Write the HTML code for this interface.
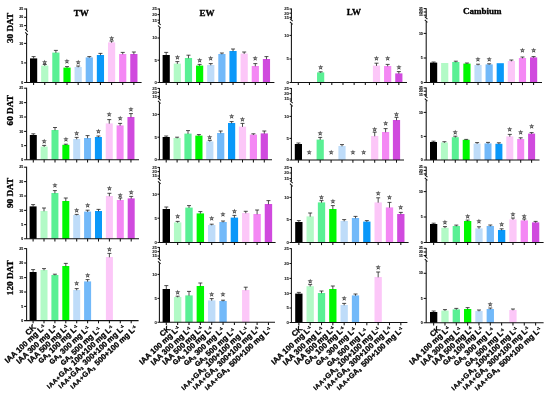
<!DOCTYPE html>
<html lang="en"><head><meta charset="utf-8"><title>Figure</title>
<style>
html,body{margin:0;padding:0;background:#fff;}
body{width:550px;height:395px;overflow:hidden;}
svg{display:block;filter:blur(0.35px);}
.ax{stroke:#111;stroke-width:1.05;fill:none;}
.yl{font-family:"Liberation Sans",sans-serif;font-weight:bold;font-size:3.5px;text-anchor:end;fill:#111;stroke:#111;stroke-width:0.12;}
.yb{font-size:4.2px;stroke-width:0.05;}
.sf{font-family:"DejaVu Sans",sans-serif;font-size:5.7px;text-anchor:middle;fill:#a8a8a8;}
.st{font-family:"DejaVu Sans",sans-serif;font-size:4.9px;text-anchor:middle;fill:#aaa;stroke:#333;stroke-width:0.5;stroke-linejoin:miter;}
.xl{font-family:"Liberation Sans",sans-serif;font-weight:bold;font-size:7.8px;text-anchor:end;fill:#000;stroke:#000;stroke-width:0.3;}
.xl .sm{font-size:6.2px;letter-spacing:0.55px;}
.xl .ga2{font-size:7.4px;letter-spacing:0.3px;}
.xl .ga{font-size:7px;}
.xl .sub{font-size:4.2px;}
.xl .sup{font-size:3.8px;}
.ti{font-family:"Liberation Serif",serif;font-weight:bold;font-size:9.0px;text-anchor:middle;fill:#000;stroke:#000;stroke-width:0.3;}
.ro{font-family:"Liberation Serif",serif;font-weight:bold;font-size:9.2px;text-anchor:middle;fill:#000;stroke:#000;stroke-width:0.3;}
</style></head>
<body>
<svg width="550" height="395" viewBox="0 0 550 395">
<rect width="550" height="395" fill="#ffffff"/>
<g id="p11">
<rect x="30" y="58.4" width="7.2" height="24" fill="#000000"/>
<path d="M33.6 58.7V56.6M31.6 56.6H35.6" stroke="#222" stroke-width="0.8" fill="none"/>
<rect x="41.14" y="65.6" width="7.2" height="16.8" fill="#b2fac6"/>
<path d="M44.74 65.9V64.4M42.74 64.4H46.74" stroke="#222" stroke-width="0.8" fill="none"/>
<text class="st" x="44.74" y="63.6">★</text>
<rect x="52.28" y="52.6" width="7.2" height="29.8" fill="#5af094"/>
<path d="M55.88 52.9V50.4M53.88 50.4H57.88" stroke="#222" stroke-width="0.8" fill="none"/>
<rect x="63.42" y="67.6" width="7.2" height="14.8" fill="#00f800"/>
<path d="M67.02 67.9V66.6M65.02 66.6H69.02" stroke="#222" stroke-width="0.8" fill="none"/>
<text class="st" x="67.02" y="63.4">★</text>
<rect x="74.56" y="67" width="7.2" height="15.4" fill="#bedcf9"/>
<path d="M78.16 67.3V66M76.16 66H80.16" stroke="#222" stroke-width="0.8" fill="none"/>
<text class="st" x="78.16" y="64">★</text>
<rect x="85.7" y="57.4" width="7.2" height="25" fill="#72b9f9"/>
<path d="M89.3 57.7V56.6M87.3 56.6H91.3" stroke="#222" stroke-width="0.8" fill="none"/>
<rect x="96.84" y="55" width="7.2" height="27.4" fill="#0a98f9"/>
<path d="M100.44 55.3V53.4M98.44 53.4H102.44" stroke="#222" stroke-width="0.8" fill="none"/>
<rect x="107.98" y="42.4" width="7.2" height="40" fill="#fcc7f8"/>
<path d="M111.58 42.7V41M109.58 41H113.58" stroke="#222" stroke-width="0.8" fill="none"/>
<text class="st" x="111.58" y="39.6">★</text>
<rect x="119.12" y="54" width="7.2" height="28.4" fill="#f488f4"/>
<path d="M122.72 54.3V52.4M120.72 52.4H124.72" stroke="#222" stroke-width="0.8" fill="none"/>
<rect x="130.26" y="54" width="7.2" height="28.4" fill="#d04ade"/>
<path d="M133.86 54.3V52M131.86 52H135.86" stroke="#222" stroke-width="0.8" fill="none"/>
<path d="M26.6 8.6V29.8M26.6 34.2V82.4" class="ax"/>
<path d="M25.2 29.1L27.8 31.7M25.2 32.3L27.8 34.9" class="ax"/>
<path d="M24.1 82.4H141.6" class="ax"/>
<text class="yl" x="23.2" y="83.55">0</text>
<path d="M24.1 62.9H26.6" class="ax"/>
<text class="yl" x="23.2" y="64.05">5</text>
<path d="M24.1 43.4H26.6" class="ax"/>
<text class="yl" x="23.2" y="44.55">10</text>
<path d="M24.1 25.6H26.6" class="ax"/>
<text class="yl" x="23.2" y="26.75">15</text>
<path d="M24.1 17.3H26.6" class="ax"/>
<text class="yl" x="23.2" y="18.45">20</text>
<path d="M24.1 9H26.6" class="ax"/>
<text class="yl" x="23.2" y="10.15">25</text>
<path d="M33.6 82.4V85.1" class="ax"/>
<path d="M44.74 82.4V85.1" class="ax"/>
<path d="M55.88 82.4V85.1" class="ax"/>
<path d="M67.02 82.4V85.1" class="ax"/>
<path d="M78.16 82.4V85.1" class="ax"/>
<path d="M89.3 82.4V85.1" class="ax"/>
<path d="M100.44 82.4V85.1" class="ax"/>
<path d="M111.58 82.4V85.1" class="ax"/>
<path d="M122.72 82.4V85.1" class="ax"/>
<path d="M133.86 82.4V85.1" class="ax"/>
</g>
<g id="p12">
<rect x="162.6" y="55" width="7.2" height="27.4" fill="#000000"/>
<path d="M166.2 55.3V52.4M164.2 52.4H168.2" stroke="#222" stroke-width="0.8" fill="none"/>
<rect x="173.74" y="63.6" width="7.2" height="18.8" fill="#b2fac6"/>
<path d="M177.34 63.9V61.6M175.34 61.6H179.34" stroke="#222" stroke-width="0.8" fill="none"/>
<text class="st" x="177.34" y="58.6">★</text>
<rect x="184.88" y="58" width="7.2" height="24.4" fill="#5af094"/>
<path d="M188.48 58.3V55.2M186.48 55.2H190.48" stroke="#222" stroke-width="0.8" fill="none"/>
<rect x="196.02" y="65.6" width="7.2" height="16.8" fill="#00f800"/>
<path d="M199.62 65.9V64.4M197.62 64.4H201.62" stroke="#222" stroke-width="0.8" fill="none"/>
<text class="st" x="199.62" y="61.6">★</text>
<rect x="207.16" y="65" width="7.2" height="17.4" fill="#bedcf9"/>
<path d="M210.76 65.3V63.6M208.76 63.6H212.76" stroke="#222" stroke-width="0.8" fill="none"/>
<text class="st" x="210.76" y="60.4">★</text>
<rect x="218.3" y="54" width="7.2" height="28.4" fill="#72b9f9"/>
<path d="M221.9 54.3V53M219.9 53H223.9" stroke="#222" stroke-width="0.8" fill="none"/>
<rect x="229.44" y="51" width="7.2" height="31.4" fill="#0a98f9"/>
<path d="M233.04 51.3V49M231.04 49H235.04" stroke="#222" stroke-width="0.8" fill="none"/>
<rect x="240.58" y="53.6" width="7.2" height="28.8" fill="#fcc7f8"/>
<path d="M244.18 53.9V52M242.18 52H246.18" stroke="#222" stroke-width="0.8" fill="none"/>
<rect x="251.72" y="66" width="7.2" height="16.4" fill="#f488f4"/>
<path d="M255.32 66.3V63.6M253.32 63.6H257.32" stroke="#222" stroke-width="0.8" fill="none"/>
<text class="st" x="255.32" y="60">★</text>
<rect x="262.86" y="59" width="7.2" height="23.4" fill="#d04ade"/>
<path d="M266.46 59.3V56.6M264.46 56.6H268.46" stroke="#222" stroke-width="0.8" fill="none"/>
<path d="M159.4 8.6V23M159.4 27.4V82.4" class="ax"/>
<path d="M158 22.3L160.6 24.9M158 25.5L160.6 28.1" class="ax"/>
<path d="M157.5 82.4H274.4" class="ax"/>
<text class="yl yb" x="156.9" y="83.7">0</text>
<path d="M157.5 60.2H159.4" class="ax"/>
<text class="yl yb" x="156.9" y="61.5">5</text>
<path d="M157.5 38H159.4" class="ax"/>
<text class="yl yb" x="156.9" y="39.3">10</text>
<path d="M157.5 20.2H159.4" class="ax"/>
<text class="yl yb" x="156.9" y="21.5">15</text>
<path d="M157.5 14.6H159.4" class="ax"/>
<text class="yl yb" x="156.9" y="15.9">20</text>
<path d="M157.5 9H159.4" class="ax"/>
<text class="yl yb" x="156.9" y="10.3">25</text>
<path d="M166.2 82.4V85.1" class="ax"/>
<path d="M177.34 82.4V85.1" class="ax"/>
<path d="M188.48 82.4V85.1" class="ax"/>
<path d="M199.62 82.4V85.1" class="ax"/>
<path d="M210.76 82.4V85.1" class="ax"/>
<path d="M221.9 82.4V85.1" class="ax"/>
<path d="M233.04 82.4V85.1" class="ax"/>
<path d="M244.18 82.4V85.1" class="ax"/>
<path d="M255.32 82.4V85.1" class="ax"/>
<path d="M266.46 82.4V85.1" class="ax"/>
</g>
<g id="p13">
<rect x="317.04" y="72.4" width="7.2" height="10" fill="#5af094"/>
<path d="M320.64 72.7V71.8M318.64 71.8H322.64" stroke="#222" stroke-width="0.8" fill="none"/>
<text class="st" x="320.64" y="69">★</text>
<rect x="372.89" y="65.6" width="7.2" height="16.8" fill="#fcc7f8"/>
<path d="M376.49 65.9V63.2M374.49 63.2H378.49" stroke="#222" stroke-width="0.8" fill="none"/>
<text class="st" x="376.49" y="59.8">★</text>
<rect x="384.06" y="66" width="7.2" height="16.4" fill="#f488f4"/>
<path d="M387.66 66.3V64.4M385.66 64.4H389.66" stroke="#222" stroke-width="0.8" fill="none"/>
<text class="st" x="387.66" y="59.6">★</text>
<rect x="395.23" y="73.4" width="7.2" height="9" fill="#d04ade"/>
<path d="M398.83 73.7V71.6M396.83 71.6H400.83" stroke="#222" stroke-width="0.8" fill="none"/>
<text class="st" x="398.83" y="69">★</text>
<path d="M291.4 8.6V19.3M291.4 23.7V82.4" class="ax"/>
<path d="M290 18.6L292.6 21.2M290 21.8L292.6 24.4" class="ax"/>
<path d="M289.5 82.4H407" class="ax"/>
<text class="yl yb" x="288.9" y="83.7">0</text>
<path d="M289.5 59H291.4" class="ax"/>
<text class="yl yb" x="288.9" y="60.3">5</text>
<path d="M289.5 35.4H291.4" class="ax"/>
<text class="yl yb" x="288.9" y="36.7">10</text>
<path d="M289.5 17.4H291.4" class="ax"/>
<text class="yl yb" x="288.9" y="18.7">15</text>
<path d="M289.5 13.2H291.4" class="ax"/>
<text class="yl yb" x="288.9" y="14.5">20</text>
<path d="M289.5 9H291.4" class="ax"/>
<text class="yl yb" x="288.9" y="10.3">25</text>
<path d="M298.3 82.4V85.1" class="ax"/>
<path d="M309.47 82.4V85.1" class="ax"/>
<path d="M320.64 82.4V85.1" class="ax"/>
<path d="M331.81 82.4V85.1" class="ax"/>
<path d="M342.98 82.4V85.1" class="ax"/>
<path d="M354.15 82.4V85.1" class="ax"/>
<path d="M365.32 82.4V85.1" class="ax"/>
<path d="M376.49 82.4V85.1" class="ax"/>
<path d="M387.66 82.4V85.1" class="ax"/>
<path d="M398.83 82.4V85.1" class="ax"/>
</g>
<g id="p14">
<rect x="430" y="62.6" width="7.2" height="19.8" fill="#000000"/>
<path d="M433.6 62.9V62M431.6 62H435.6" stroke="#222" stroke-width="0.8" fill="none"/>
<rect x="441.11" y="63" width="7.2" height="19.4" fill="#b2fac6"/>
<rect x="452.22" y="62" width="7.2" height="20.4" fill="#5af094"/>
<path d="M455.82 62.3V61.2M453.82 61.2H457.82" stroke="#222" stroke-width="0.8" fill="none"/>
<rect x="463.33" y="63.6" width="7.2" height="18.8" fill="#00f800"/>
<path d="M466.93 63.9V63M464.93 63H468.93" stroke="#222" stroke-width="0.8" fill="none"/>
<rect x="474.44" y="65" width="7.2" height="17.4" fill="#bedcf9"/>
<path d="M478.04 65.3V64.2M476.04 64.2H480.04" stroke="#222" stroke-width="0.8" fill="none"/>
<text class="st" x="478.04" y="60.6">★</text>
<rect x="485.55" y="64.4" width="7.2" height="18" fill="#72b9f9"/>
<path d="M489.15 64.7V63.8M487.15 63.8H491.15" stroke="#222" stroke-width="0.8" fill="none"/>
<text class="st" x="489.15" y="60.6">★</text>
<rect x="496.66" y="63.2" width="7.2" height="19.2" fill="#0a98f9"/>
<rect x="507.77" y="61" width="7.2" height="21.4" fill="#fcc7f8"/>
<path d="M511.37 61.3V60M509.37 60H513.37" stroke="#222" stroke-width="0.8" fill="none"/>
<rect x="518.88" y="58" width="7.2" height="24.4" fill="#f488f4"/>
<path d="M522.48 58.3V57M520.48 57H524.48" stroke="#222" stroke-width="0.8" fill="none"/>
<text class="st" x="522.48" y="52.4">★</text>
<rect x="529.99" y="57.4" width="7.2" height="25" fill="#d04ade"/>
<path d="M533.59 57.7V56.6M531.59 56.6H535.59" stroke="#222" stroke-width="0.8" fill="none"/>
<text class="st" x="533.59" y="52.4">★</text>
<path d="M426.2 8.2V17.3M426.2 21.7V82.4" class="ax"/>
<path d="M424.8 16.6L427.4 19.2M424.8 19.8L427.4 22.4" class="ax"/>
<path d="M423.7 82.4H542" class="ax"/>
<text class="yl" x="422.8" y="83.55">0</text>
<path d="M423.7 58H426.2" class="ax"/>
<text class="yl" x="422.8" y="59.15">5</text>
<path d="M423.7 33.4H426.2" class="ax"/>
<text class="yl" x="422.8" y="34.55">10</text>
<path d="M423.7 15.2H426.2" class="ax"/>
<text class="yl" x="422.8" y="16.35">15</text>
<path d="M423.7 12H426.2" class="ax"/>
<text class="yl" x="422.8" y="13.15">20</text>
<path d="M423.7 8.6H426.2" class="ax"/>
<text class="yl" x="422.8" y="9.75">25</text>
<path d="M433.6 82.4V85.1" class="ax"/>
<path d="M444.71 82.4V85.1" class="ax"/>
<path d="M455.82 82.4V85.1" class="ax"/>
<path d="M466.93 82.4V85.1" class="ax"/>
<path d="M478.04 82.4V85.1" class="ax"/>
<path d="M489.15 82.4V85.1" class="ax"/>
<path d="M500.26 82.4V85.1" class="ax"/>
<path d="M511.37 82.4V85.1" class="ax"/>
<path d="M522.48 82.4V85.1" class="ax"/>
<path d="M533.59 82.4V85.1" class="ax"/>
</g>
<g id="p21">
<rect x="29.8" y="135" width="7" height="24.8" fill="#000000"/>
<path d="M33.3 135.3V133.8M31.3 133.8H35.3" stroke="#222" stroke-width="0.8" fill="none"/>
<rect x="40.65" y="146.6" width="7" height="13.2" fill="#b2fac6"/>
<path d="M44.15 146.9V145.4M42.15 145.4H46.15" stroke="#222" stroke-width="0.8" fill="none"/>
<text class="st" x="44.15" y="143">★</text>
<rect x="51.5" y="130" width="7" height="29.8" fill="#5af094"/>
<path d="M55 130.3V127.5M53 127.5H57" stroke="#222" stroke-width="0.8" fill="none"/>
<rect x="62.35" y="144.8" width="7" height="15" fill="#00f800"/>
<path d="M65.85 145.1V144.2M63.85 144.2H67.85" stroke="#222" stroke-width="0.8" fill="none"/>
<text class="st" x="65.85" y="140.8">★</text>
<rect x="73.2" y="139" width="7" height="20.8" fill="#bedcf9"/>
<path d="M76.7 139.3V137.4M74.7 137.4H78.7" stroke="#222" stroke-width="0.8" fill="none"/>
<text class="st" x="76.7" y="134.5">★</text>
<rect x="84.05" y="138" width="7" height="21.8" fill="#72b9f9"/>
<path d="M87.55 138.3V135.6M85.55 135.6H89.55" stroke="#222" stroke-width="0.8" fill="none"/>
<rect x="94.9" y="137" width="7" height="22.8" fill="#0a98f9"/>
<path d="M98.4 137.3V136M96.4 136H100.4" stroke="#222" stroke-width="0.8" fill="none"/>
<text class="st" x="98.4" y="133.2">★</text>
<rect x="105.75" y="123.4" width="7" height="36.4" fill="#fcc7f8"/>
<path d="M109.25 123.7V119.6M107.25 119.6H111.25" stroke="#222" stroke-width="0.8" fill="none"/>
<text class="st" x="109.25" y="115.5">★</text>
<rect x="116.6" y="125.4" width="7" height="34.4" fill="#f488f4"/>
<path d="M120.1 125.7V123.4M118.1 123.4H122.1" stroke="#222" stroke-width="0.8" fill="none"/>
<text class="st" x="120.1" y="120">★</text>
<rect x="127.45" y="117" width="7" height="42.8" fill="#d04ade"/>
<path d="M130.95 117.3V113.6M128.95 113.6H132.95" stroke="#222" stroke-width="0.8" fill="none"/>
<text class="st" x="130.95" y="110.6">★</text>
<path d="M26.6 87.8V159.8" class="ax"/>
<path d="M24.1 159.8H139" class="ax"/>
<text class="yl" x="23.2" y="160.95">0</text>
<path d="M24.1 145.6H26.6" class="ax"/>
<text class="yl" x="23.2" y="146.75">5</text>
<path d="M24.1 131.4H26.6" class="ax"/>
<text class="yl" x="23.2" y="132.55">10</text>
<path d="M24.1 117H26.6" class="ax"/>
<text class="yl" x="23.2" y="118.15">15</text>
<path d="M24.1 102.6H26.6" class="ax"/>
<text class="yl" x="23.2" y="103.75">20</text>
<path d="M24.1 88.2H26.6" class="ax"/>
<text class="yl" x="23.2" y="89.35">25</text>
<path d="M33.3 159.8V162.5" class="ax"/>
<path d="M44.15 159.8V162.5" class="ax"/>
<path d="M55 159.8V162.5" class="ax"/>
<path d="M65.85 159.8V162.5" class="ax"/>
<path d="M76.7 159.8V162.5" class="ax"/>
<path d="M87.55 159.8V162.5" class="ax"/>
<path d="M98.4 159.8V162.5" class="ax"/>
<path d="M109.25 159.8V162.5" class="ax"/>
<path d="M120.1 159.8V162.5" class="ax"/>
<path d="M130.95 159.8V162.5" class="ax"/>
</g>
<g id="p22">
<rect x="162.6" y="137" width="7.2" height="22.8" fill="#000000"/>
<path d="M166.2 137.3V136M164.2 136H168.2" stroke="#222" stroke-width="0.8" fill="none"/>
<rect x="173.5" y="138" width="7.2" height="21.8" fill="#b2fac6"/>
<path d="M177.1 138.3V137.2M175.1 137.2H179.1" stroke="#222" stroke-width="0.8" fill="none"/>
<rect x="184.4" y="133.6" width="7.2" height="26.2" fill="#5af094"/>
<path d="M188 133.9V130.6M186 130.6H190" stroke="#222" stroke-width="0.8" fill="none"/>
<rect x="195.3" y="135.6" width="7.2" height="24.2" fill="#00f800"/>
<path d="M198.9 135.9V134.6M196.9 134.6H200.9" stroke="#222" stroke-width="0.8" fill="none"/>
<rect x="206.2" y="141.4" width="7.2" height="18.4" fill="#bedcf9"/>
<path d="M209.8 141.7V140.4M207.8 140.4H211.8" stroke="#222" stroke-width="0.8" fill="none"/>
<text class="st" x="209.8" y="138.6">★</text>
<rect x="217.1" y="133" width="7.2" height="26.8" fill="#72b9f9"/>
<path d="M220.7 133.3V131M218.7 131H222.7" stroke="#222" stroke-width="0.8" fill="none"/>
<rect x="228" y="123" width="7.2" height="36.8" fill="#0a98f9"/>
<path d="M231.6 123.3V121.6M229.6 121.6H233.6" stroke="#222" stroke-width="0.8" fill="none"/>
<text class="st" x="231.6" y="117.5">★</text>
<rect x="238.9" y="126.6" width="7.2" height="33.2" fill="#fcc7f8"/>
<path d="M242.5 126.9V123.4M240.5 123.4H244.5" stroke="#222" stroke-width="0.8" fill="none"/>
<text class="st" x="242.5" y="120.8">★</text>
<rect x="249.8" y="134.6" width="7.2" height="25.2" fill="#f488f4"/>
<path d="M253.4 134.9V133.8M251.4 133.8H255.4" stroke="#222" stroke-width="0.8" fill="none"/>
<rect x="260.7" y="133.4" width="7.2" height="26.4" fill="#d04ade"/>
<path d="M264.3 133.7V131M262.3 131H266.3" stroke="#222" stroke-width="0.8" fill="none"/>
<path d="M159.4 88V98.4M159.4 102.8V159.8" class="ax"/>
<path d="M158 97.7L160.6 100.3M158 100.9L160.6 103.5" class="ax"/>
<path d="M157.5 159.8H272" class="ax"/>
<text class="yl yb" x="156.9" y="161.1">0</text>
<path d="M157.5 137.2H159.4" class="ax"/>
<text class="yl yb" x="156.9" y="138.5">5</text>
<path d="M157.5 114.4H159.4" class="ax"/>
<text class="yl yb" x="156.9" y="115.7">10</text>
<path d="M157.5 96.4H159.4" class="ax"/>
<text class="yl yb" x="156.9" y="97.7">15</text>
<path d="M157.5 92.4H159.4" class="ax"/>
<text class="yl yb" x="156.9" y="93.7">20</text>
<path d="M157.5 88.4H159.4" class="ax"/>
<text class="yl yb" x="156.9" y="89.7">25</text>
<path d="M166.2 159.8V162.5" class="ax"/>
<path d="M177.1 159.8V162.5" class="ax"/>
<path d="M188 159.8V162.5" class="ax"/>
<path d="M198.9 159.8V162.5" class="ax"/>
<path d="M209.8 159.8V162.5" class="ax"/>
<path d="M220.7 159.8V162.5" class="ax"/>
<path d="M231.6 159.8V162.5" class="ax"/>
<path d="M242.5 159.8V162.5" class="ax"/>
<path d="M253.4 159.8V162.5" class="ax"/>
<path d="M264.3 159.8V162.5" class="ax"/>
</g>
<g id="p23">
<rect x="294.8" y="144" width="7.2" height="16" fill="#000000"/>
<path d="M298.4 144.3V143M296.4 143H300.4" stroke="#222" stroke-width="0.8" fill="none"/>
<text class="st" x="309.3" y="154.4">★</text>
<rect x="316.6" y="139.6" width="7.2" height="20.4" fill="#5af094"/>
<path d="M320.2 139.9V137.4M318.2 137.4H322.2" stroke="#222" stroke-width="0.8" fill="none"/>
<text class="st" x="320.2" y="134.6">★</text>
<text class="st" x="331.1" y="154.4">★</text>
<rect x="338.4" y="146" width="7.2" height="14" fill="#bedcf9"/>
<path d="M342 146.3V144.6M340 144.6H344" stroke="#222" stroke-width="0.8" fill="none"/>
<text class="st" x="352.9" y="154.4">★</text>
<text class="st" x="363.8" y="154.4">★</text>
<rect x="371.1" y="136" width="7.2" height="24" fill="#fcc7f8"/>
<path d="M374.7 136.3V132.2M372.7 132.2H376.7" stroke="#222" stroke-width="0.8" fill="none"/>
<text class="st" x="374.7" y="130.8">★</text>
<rect x="382" y="132" width="7.2" height="28" fill="#f488f4"/>
<path d="M385.6 132.3V128.6M383.6 128.6H387.6" stroke="#222" stroke-width="0.8" fill="none"/>
<text class="st" x="385.6" y="125">★</text>
<rect x="392.9" y="120" width="7.2" height="40" fill="#d04ade"/>
<path d="M396.5 120.3V117.4M394.5 117.4H398.5" stroke="#222" stroke-width="0.8" fill="none"/>
<text class="st" x="396.5" y="116">★</text>
<path d="M291.4 88V101.2M291.4 105.6V160" class="ax"/>
<path d="M290 100.5L292.6 103.1M290 103.7L292.6 106.3" class="ax"/>
<path d="M289.5 160H404" class="ax"/>
<text class="yl yb" x="288.9" y="161.3">0</text>
<path d="M289.5 138.4H291.4" class="ax"/>
<text class="yl yb" x="288.9" y="139.7">5</text>
<path d="M289.5 116.4H291.4" class="ax"/>
<text class="yl yb" x="288.9" y="117.7">10</text>
<path d="M289.5 99H291.4" class="ax"/>
<text class="yl yb" x="288.9" y="100.3">15</text>
<path d="M289.5 93.6H291.4" class="ax"/>
<text class="yl yb" x="288.9" y="94.9">20</text>
<path d="M289.5 88.4H291.4" class="ax"/>
<text class="yl yb" x="288.9" y="89.7">25</text>
<path d="M298.4 160V162.7" class="ax"/>
<path d="M309.3 160V162.7" class="ax"/>
<path d="M320.2 160V162.7" class="ax"/>
<path d="M331.1 160V162.7" class="ax"/>
<path d="M342 160V162.7" class="ax"/>
<path d="M352.9 160V162.7" class="ax"/>
<path d="M363.8 160V162.7" class="ax"/>
<path d="M374.7 160V162.7" class="ax"/>
<path d="M385.6 160V162.7" class="ax"/>
<path d="M396.5 160V162.7" class="ax"/>
</g>
<g id="p24">
<rect x="430" y="142" width="7" height="18" fill="#000000"/>
<path d="M433.5 142.3V141.2M431.5 141.2H435.5" stroke="#222" stroke-width="0.8" fill="none"/>
<rect x="440.9" y="142.5" width="7" height="17.5" fill="#b2fac6"/>
<path d="M444.4 142.8V141.7M442.4 141.7H446.4" stroke="#222" stroke-width="0.8" fill="none"/>
<rect x="451.8" y="137.2" width="7" height="22.8" fill="#5af094"/>
<path d="M455.3 137.5V136.2M453.3 136.2H457.3" stroke="#222" stroke-width="0.8" fill="none"/>
<text class="st" x="455.3" y="133.7">★</text>
<rect x="462.7" y="139.8" width="7" height="20.2" fill="#00f800"/>
<path d="M466.2 140.1V139.4M464.2 139.4H468.2" stroke="#222" stroke-width="0.8" fill="none"/>
<rect x="473.6" y="143.6" width="7" height="16.4" fill="#bedcf9"/>
<path d="M477.1 143.9V142.6M475.1 142.6H479.1" stroke="#222" stroke-width="0.8" fill="none"/>
<rect x="484.5" y="143.4" width="7" height="16.6" fill="#72b9f9"/>
<path d="M488 143.7V142.4M486 142.4H490" stroke="#222" stroke-width="0.8" fill="none"/>
<rect x="495.4" y="143.8" width="7" height="16.2" fill="#0a98f9"/>
<path d="M498.9 144.1V142.8M496.9 142.8H500.9" stroke="#222" stroke-width="0.8" fill="none"/>
<rect x="506.3" y="136.4" width="7" height="23.6" fill="#fcc7f8"/>
<path d="M509.8 136.7V134.4M507.8 134.4H511.8" stroke="#222" stroke-width="0.8" fill="none"/>
<text class="st" x="509.8" y="131">★</text>
<rect x="517.2" y="139" width="7" height="21" fill="#f488f4"/>
<path d="M520.7 139.3V137.8M518.7 137.8H522.7" stroke="#222" stroke-width="0.8" fill="none"/>
<text class="st" x="520.7" y="134">★</text>
<rect x="528.1" y="133.6" width="7" height="26.4" fill="#d04ade"/>
<path d="M531.6 133.9V132.6M529.6 132.6H533.6" stroke="#222" stroke-width="0.8" fill="none"/>
<text class="st" x="531.6" y="128.2">★</text>
<path d="M426.2 87.5V96.1M426.2 100.5V160" class="ax"/>
<path d="M424.8 95.4L427.4 98M424.8 98.6L427.4 101.2" class="ax"/>
<path d="M423.7 160H539.5" class="ax"/>
<text class="yl" x="422.8" y="161.15">0</text>
<path d="M423.7 136.4H426.2" class="ax"/>
<text class="yl" x="422.8" y="137.55">5</text>
<path d="M423.7 112.4H426.2" class="ax"/>
<text class="yl" x="422.8" y="113.55">10</text>
<path d="M423.7 94.7H426.2" class="ax"/>
<text class="yl" x="422.8" y="95.85">15</text>
<path d="M423.7 91.2H426.2" class="ax"/>
<text class="yl" x="422.8" y="92.35">20</text>
<path d="M423.7 87.9H426.2" class="ax"/>
<text class="yl" x="422.8" y="89.05">25</text>
<path d="M433.5 160V162.7" class="ax"/>
<path d="M444.4 160V162.7" class="ax"/>
<path d="M455.3 160V162.7" class="ax"/>
<path d="M466.2 160V162.7" class="ax"/>
<path d="M477.1 160V162.7" class="ax"/>
<path d="M488 160V162.7" class="ax"/>
<path d="M498.9 160V162.7" class="ax"/>
<path d="M509.8 160V162.7" class="ax"/>
<path d="M520.7 160V162.7" class="ax"/>
<path d="M531.6 160V162.7" class="ax"/>
</g>
<g id="p31">
<rect x="29.6" y="206.4" width="7" height="32.4" fill="#000000"/>
<path d="M33.1 206.7V204.6M31.1 204.6H35.1" stroke="#222" stroke-width="0.8" fill="none"/>
<rect x="40.5" y="211" width="7" height="27.8" fill="#b2fac6"/>
<path d="M44 211.3V208M42 208H46" stroke="#222" stroke-width="0.8" fill="none"/>
<rect x="51.4" y="193" width="7" height="45.8" fill="#5af094"/>
<path d="M54.9 193.3V190.6M52.9 190.6H56.9" stroke="#222" stroke-width="0.8" fill="none"/>
<text class="st" x="54.9" y="187.4">★</text>
<rect x="62.3" y="201" width="7" height="37.8" fill="#00f800"/>
<path d="M65.8 201.3V198M63.8 198H67.8" stroke="#222" stroke-width="0.8" fill="none"/>
<rect x="73.2" y="215" width="7" height="23.8" fill="#bedcf9"/>
<path d="M76.7 215.3V214.4M74.7 214.4H78.7" stroke="#222" stroke-width="0.8" fill="none"/>
<text class="st" x="76.7" y="212">★</text>
<rect x="84.1" y="211.6" width="7" height="27.2" fill="#72b9f9"/>
<path d="M87.6 211.9V210.2M85.6 210.2H89.6" stroke="#222" stroke-width="0.8" fill="none"/>
<text class="st" x="87.6" y="207.2">★</text>
<rect x="95" y="211" width="7" height="27.8" fill="#0a98f9"/>
<path d="M98.5 211.3V209.4M96.5 209.4H100.5" stroke="#222" stroke-width="0.8" fill="none"/>
<rect x="105.9" y="196" width="7" height="42.8" fill="#fcc7f8"/>
<path d="M109.4 196.3V193.3M107.4 193.3H111.4" stroke="#222" stroke-width="0.8" fill="none"/>
<text class="st" x="109.4" y="190.2">★</text>
<rect x="116.8" y="200" width="7" height="38.8" fill="#f488f4"/>
<path d="M120.3 200.3V198M118.3 198H122.3" stroke="#222" stroke-width="0.8" fill="none"/>
<text class="st" x="120.3" y="196.6">★</text>
<rect x="127.7" y="198.4" width="7" height="40.4" fill="#d04ade"/>
<path d="M131.2 198.7V196.4M129.2 196.4H133.2" stroke="#222" stroke-width="0.8" fill="none"/>
<text class="st" x="131.2" y="194">★</text>
<path d="M26.6 166.8V238.8" class="ax"/>
<path d="M24.1 238.8H139" class="ax"/>
<text class="yl" x="23.2" y="239.95">0</text>
<path d="M24.1 224.6H26.6" class="ax"/>
<text class="yl" x="23.2" y="225.75">5</text>
<path d="M24.1 210.4H26.6" class="ax"/>
<text class="yl" x="23.2" y="211.55">10</text>
<path d="M24.1 196H26.6" class="ax"/>
<text class="yl" x="23.2" y="197.15">15</text>
<path d="M24.1 181.6H26.6" class="ax"/>
<text class="yl" x="23.2" y="182.75">20</text>
<path d="M24.1 167.2H26.6" class="ax"/>
<text class="yl" x="23.2" y="168.35">25</text>
<path d="M33.1 238.8V241.5" class="ax"/>
<path d="M44 238.8V241.5" class="ax"/>
<path d="M54.9 238.8V241.5" class="ax"/>
<path d="M65.8 238.8V241.5" class="ax"/>
<path d="M76.7 238.8V241.5" class="ax"/>
<path d="M87.6 238.8V241.5" class="ax"/>
<path d="M98.5 238.8V241.5" class="ax"/>
<path d="M109.4 238.8V241.5" class="ax"/>
<path d="M120.3 238.8V241.5" class="ax"/>
<path d="M131.2 238.8V241.5" class="ax"/>
</g>
<g id="p32">
<rect x="162.6" y="209" width="7.4" height="33.4" fill="#000000"/>
<path d="M166.3 209.3V207M164.3 207H168.3" stroke="#222" stroke-width="0.8" fill="none"/>
<rect x="173.95" y="222.4" width="7.4" height="20" fill="#b2fac6"/>
<path d="M177.65 222.7V221.4M175.65 221.4H179.65" stroke="#222" stroke-width="0.8" fill="none"/>
<text class="st" x="177.65" y="218">★</text>
<rect x="185.3" y="207.6" width="7.4" height="34.8" fill="#5af094"/>
<path d="M189 207.9V205.6M187 205.6H191" stroke="#222" stroke-width="0.8" fill="none"/>
<rect x="196.65" y="213.4" width="7.4" height="29" fill="#00f800"/>
<path d="M200.35 213.7V211.6M198.35 211.6H202.35" stroke="#222" stroke-width="0.8" fill="none"/>
<rect x="208" y="225" width="7.4" height="17.4" fill="#bedcf9"/>
<path d="M211.7 225.3V224.2M209.7 224.2H213.7" stroke="#222" stroke-width="0.8" fill="none"/>
<text class="st" x="211.7" y="220">★</text>
<rect x="219.35" y="222" width="7.4" height="20.4" fill="#72b9f9"/>
<path d="M223.05 222.3V221M221.05 221H225.05" stroke="#222" stroke-width="0.8" fill="none"/>
<text class="st" x="223.05" y="216.4">★</text>
<rect x="230.7" y="217.6" width="7.4" height="24.8" fill="#0a98f9"/>
<path d="M234.4 217.9V215.4M232.4 215.4H236.4" stroke="#222" stroke-width="0.8" fill="none"/>
<text class="st" x="234.4" y="213">★</text>
<rect x="242.05" y="213" width="7.4" height="29.4" fill="#fcc7f8"/>
<path d="M245.75 213.3V211.3M243.75 211.3H247.75" stroke="#222" stroke-width="0.8" fill="none"/>
<rect x="253.4" y="214" width="7.4" height="28.4" fill="#f488f4"/>
<path d="M257.1 214.3V210M255.1 210H259.1" stroke="#222" stroke-width="0.8" fill="none"/>
<rect x="264.75" y="204" width="7.4" height="38.4" fill="#d04ade"/>
<path d="M268.45 204.3V200.6M266.45 200.6H270.45" stroke="#222" stroke-width="0.8" fill="none"/>
<path d="M159.4 167V178.8M159.4 183.2V242.4" class="ax"/>
<path d="M158 178.1L160.6 180.7M158 181.3L160.6 183.9" class="ax"/>
<path d="M157.5 242.4H275.6" class="ax"/>
<text class="yl yb" x="156.9" y="243.7">0</text>
<path d="M157.5 218.2H159.4" class="ax"/>
<text class="yl yb" x="156.9" y="219.5">5</text>
<path d="M157.5 194.2H159.4" class="ax"/>
<text class="yl yb" x="156.9" y="195.5">10</text>
<path d="M157.5 176H159.4" class="ax"/>
<text class="yl yb" x="156.9" y="177.3">15</text>
<path d="M157.5 171.6H159.4" class="ax"/>
<text class="yl yb" x="156.9" y="172.9">20</text>
<path d="M157.5 167.4H159.4" class="ax"/>
<text class="yl yb" x="156.9" y="168.7">25</text>
<path d="M166.3 242.4V245.1" class="ax"/>
<path d="M177.65 242.4V245.1" class="ax"/>
<path d="M189 242.4V245.1" class="ax"/>
<path d="M200.35 242.4V245.1" class="ax"/>
<path d="M211.7 242.4V245.1" class="ax"/>
<path d="M223.05 242.4V245.1" class="ax"/>
<path d="M234.4 242.4V245.1" class="ax"/>
<path d="M245.75 242.4V245.1" class="ax"/>
<path d="M257.1 242.4V245.1" class="ax"/>
<path d="M268.45 242.4V245.1" class="ax"/>
</g>
<g id="p33">
<rect x="295.2" y="222" width="7.3" height="20.4" fill="#000000"/>
<path d="M298.85 222.3V220.6M296.85 220.6H300.85" stroke="#222" stroke-width="0.8" fill="none"/>
<rect x="306.53" y="216.4" width="7.3" height="26" fill="#b2fac6"/>
<path d="M310.18 216.7V213M308.18 213H312.18" stroke="#222" stroke-width="0.8" fill="none"/>
<rect x="317.86" y="202.4" width="7.3" height="40" fill="#5af094"/>
<path d="M321.51 202.7V200.6M319.51 200.6H323.51" stroke="#222" stroke-width="0.8" fill="none"/>
<text class="st" x="321.51" y="198.7">★</text>
<rect x="329.19" y="209" width="7.3" height="33.4" fill="#00f800"/>
<path d="M332.84 209.3V205.6M330.84 205.6H334.84" stroke="#222" stroke-width="0.8" fill="none"/>
<text class="st" x="332.84" y="203">★</text>
<rect x="340.52" y="221" width="7.3" height="21.4" fill="#bedcf9"/>
<path d="M344.17 221.3V219.6M342.17 219.6H346.17" stroke="#222" stroke-width="0.8" fill="none"/>
<rect x="351.85" y="218" width="7.3" height="24.4" fill="#72b9f9"/>
<path d="M355.5 218.3V216.4M353.5 216.4H357.5" stroke="#222" stroke-width="0.8" fill="none"/>
<rect x="363.18" y="221.6" width="7.3" height="20.8" fill="#0a98f9"/>
<path d="M366.83 221.9V220.6M364.83 220.6H368.83" stroke="#222" stroke-width="0.8" fill="none"/>
<rect x="374.51" y="202.4" width="7.3" height="40" fill="#fcc7f8"/>
<path d="M378.16 202.7V197.8M376.16 197.8H380.16" stroke="#222" stroke-width="0.8" fill="none"/>
<text class="st" x="378.16" y="194.8">★</text>
<rect x="385.84" y="207.4" width="7.3" height="35" fill="#f488f4"/>
<path d="M389.49 207.7V202.4M387.49 202.4H391.49" stroke="#222" stroke-width="0.8" fill="none"/>
<text class="st" x="389.49" y="199.4">★</text>
<rect x="397.17" y="214" width="7.3" height="28.4" fill="#d04ade"/>
<path d="M400.82 214.3V212.4M398.82 212.4H402.82" stroke="#222" stroke-width="0.8" fill="none"/>
<text class="st" x="400.82" y="209">★</text>
<path d="M291.4 167V181.2M291.4 185.6V242.4" class="ax"/>
<path d="M290 180.5L292.6 183.1M290 183.7L292.6 186.3" class="ax"/>
<path d="M289.5 242.4H408.6" class="ax"/>
<text class="yl yb" x="288.9" y="243.7">0</text>
<path d="M289.5 219.6H291.4" class="ax"/>
<text class="yl yb" x="288.9" y="220.9">5</text>
<path d="M289.5 197.4H291.4" class="ax"/>
<text class="yl yb" x="288.9" y="198.7">10</text>
<path d="M289.5 178.6H291.4" class="ax"/>
<text class="yl yb" x="288.9" y="179.9">15</text>
<path d="M289.5 173H291.4" class="ax"/>
<text class="yl yb" x="288.9" y="174.3">20</text>
<path d="M289.5 167.4H291.4" class="ax"/>
<text class="yl yb" x="288.9" y="168.7">25</text>
<path d="M298.85 242.4V245.1" class="ax"/>
<path d="M310.18 242.4V245.1" class="ax"/>
<path d="M321.51 242.4V245.1" class="ax"/>
<path d="M332.84 242.4V245.1" class="ax"/>
<path d="M344.17 242.4V245.1" class="ax"/>
<path d="M355.5 242.4V245.1" class="ax"/>
<path d="M366.83 242.4V245.1" class="ax"/>
<path d="M378.16 242.4V245.1" class="ax"/>
<path d="M389.49 242.4V245.1" class="ax"/>
<path d="M400.82 242.4V245.1" class="ax"/>
</g>
<g id="p34">
<rect x="430" y="224" width="7.3" height="18.4" fill="#000000"/>
<path d="M433.65 224.3V223.2M431.65 223.2H435.65" stroke="#222" stroke-width="0.8" fill="none"/>
<rect x="441.33" y="227.8" width="7.3" height="14.6" fill="#b2fac6"/>
<path d="M444.98 228.1V226.6M442.98 226.6H446.98" stroke="#222" stroke-width="0.8" fill="none"/>
<text class="st" x="444.98" y="224">★</text>
<rect x="452.66" y="226" width="7.3" height="16.4" fill="#5af094"/>
<path d="M456.31 226.3V225.1M454.31 225.1H458.31" stroke="#222" stroke-width="0.8" fill="none"/>
<rect x="463.99" y="221" width="7.3" height="21.4" fill="#00f800"/>
<path d="M467.64 221.3V220.1M465.64 220.1H469.64" stroke="#222" stroke-width="0.8" fill="none"/>
<text class="st" x="467.64" y="218">★</text>
<rect x="475.32" y="228.4" width="7.3" height="14" fill="#bedcf9"/>
<path d="M478.97 228.7V226.8M476.97 226.8H480.97" stroke="#222" stroke-width="0.8" fill="none"/>
<text class="st" x="478.97" y="223">★</text>
<rect x="486.65" y="226" width="7.3" height="16.4" fill="#72b9f9"/>
<path d="M490.3 226.3V225M488.3 225H492.3" stroke="#222" stroke-width="0.8" fill="none"/>
<rect x="497.98" y="230" width="7.3" height="12.4" fill="#0a98f9"/>
<path d="M501.63 230.3V228.8M499.63 228.8H503.63" stroke="#222" stroke-width="0.8" fill="none"/>
<text class="st" x="501.63" y="225.6">★</text>
<rect x="509.31" y="219.4" width="7.3" height="23" fill="#fcc7f8"/>
<path d="M512.96 219.7V218M510.96 218H514.96" stroke="#222" stroke-width="0.8" fill="none"/>
<text class="st" x="512.96" y="215.6">★</text>
<rect x="520.64" y="220.4" width="7.3" height="22" fill="#f488f4"/>
<path d="M524.29 220.7V219M522.29 219H526.29" stroke="#222" stroke-width="0.8" fill="none"/>
<text class="st" x="524.29" y="218">★</text>
<rect x="531.97" y="222.4" width="7.3" height="20" fill="#d04ade"/>
<path d="M535.62 222.7V221.4M533.62 221.4H537.62" stroke="#222" stroke-width="0.8" fill="none"/>
<path d="M426.2 166.7V175.3M426.2 179.7V242.4" class="ax"/>
<path d="M424.8 174.6L427.4 177.2M424.8 177.8L427.4 180.4" class="ax"/>
<path d="M423.7 242.4H543.6" class="ax"/>
<text class="yl" x="422.8" y="243.55">0</text>
<path d="M423.7 217H426.2" class="ax"/>
<text class="yl" x="422.8" y="218.15">5</text>
<path d="M423.7 191.6H426.2" class="ax"/>
<text class="yl" x="422.8" y="192.75">10</text>
<path d="M423.7 173.9H426.2" class="ax"/>
<text class="yl" x="422.8" y="175.05">15</text>
<path d="M423.7 170.4H426.2" class="ax"/>
<text class="yl" x="422.8" y="171.55">20</text>
<path d="M423.7 167.1H426.2" class="ax"/>
<text class="yl" x="422.8" y="168.25">25</text>
<path d="M433.65 242.4V245.1" class="ax"/>
<path d="M444.98 242.4V245.1" class="ax"/>
<path d="M456.31 242.4V245.1" class="ax"/>
<path d="M467.64 242.4V245.1" class="ax"/>
<path d="M478.97 242.4V245.1" class="ax"/>
<path d="M490.3 242.4V245.1" class="ax"/>
<path d="M501.63 242.4V245.1" class="ax"/>
<path d="M512.96 242.4V245.1" class="ax"/>
<path d="M524.29 242.4V245.1" class="ax"/>
<path d="M535.62 242.4V245.1" class="ax"/>
</g>
<g id="p41">
<rect x="29.6" y="272" width="7" height="48.6" fill="#000000"/>
<path d="M33.1 272.3V269.6M31.1 269.6H35.1" stroke="#222" stroke-width="0.8" fill="none"/>
<rect x="40.5" y="270" width="7" height="50.6" fill="#b2fac6"/>
<path d="M44 270.3V268.6M42 268.6H46" stroke="#222" stroke-width="0.8" fill="none"/>
<rect x="51.4" y="275" width="7" height="45.6" fill="#5af094"/>
<path d="M54.9 275.3V274.2M52.9 274.2H56.9" stroke="#222" stroke-width="0.8" fill="none"/>
<rect x="62.3" y="266" width="7" height="54.6" fill="#00f800"/>
<path d="M65.8 266.3V263.4M63.8 263.4H67.8" stroke="#222" stroke-width="0.8" fill="none"/>
<rect x="73.2" y="290" width="7" height="30.6" fill="#bedcf9"/>
<path d="M76.7 290.3V288.6M74.7 288.6H78.7" stroke="#222" stroke-width="0.8" fill="none"/>
<text class="st" x="76.7" y="285.4">★</text>
<rect x="84.1" y="281.4" width="7" height="39.2" fill="#72b9f9"/>
<path d="M87.6 281.7V279.6M85.6 279.6H89.6" stroke="#222" stroke-width="0.8" fill="none"/>
<text class="st" x="87.6" y="277.4">★</text>
<rect x="105.9" y="257" width="7" height="63.6" fill="#fcc7f8"/>
<path d="M109.4 257.3V253.4M107.4 253.4H111.4" stroke="#222" stroke-width="0.8" fill="none"/>
<text class="st" x="109.4" y="251">★</text>
<path d="M26.6 248.2V320.6" class="ax"/>
<path d="M24.1 320.6H138.6" class="ax"/>
<text class="yl" x="23.2" y="321.75">0</text>
<path d="M24.1 306.4H26.6" class="ax"/>
<text class="yl" x="23.2" y="307.55">5</text>
<path d="M24.1 292H26.6" class="ax"/>
<text class="yl" x="23.2" y="293.15">10</text>
<path d="M24.1 277.6H26.6" class="ax"/>
<text class="yl" x="23.2" y="278.75">15</text>
<path d="M24.1 263H26.6" class="ax"/>
<text class="yl" x="23.2" y="264.15">20</text>
<path d="M24.1 248.6H26.6" class="ax"/>
<text class="yl" x="23.2" y="249.75">25</text>
<path d="M33.1 320.6V323.3" class="ax"/>
<path d="M44 320.6V323.3" class="ax"/>
<path d="M54.9 320.6V323.3" class="ax"/>
<path d="M65.8 320.6V323.3" class="ax"/>
<path d="M76.7 320.6V323.3" class="ax"/>
<path d="M87.6 320.6V323.3" class="ax"/>
<path d="M98.5 320.6V323.3" class="ax"/>
<path d="M109.4 320.6V323.3" class="ax"/>
<path d="M120.3 320.6V323.3" class="ax"/>
<path d="M131.2 320.6V323.3" class="ax"/>
<text class="xl" transform="translate(36.46 327.97) rotate(-43)">CK</text>
<text class="xl" transform="translate(46.15 327.79) rotate(-43)">IAA 100 mg L<tspan class="sup" dy="-2.6">-1</tspan></text>
<text class="xl" transform="translate(57.65 328.49) rotate(-43)">IAA 300 mg L<tspan class="sup" dy="-2.6">-1</tspan></text>
<text class="xl" transform="translate(69.15 327.99) rotate(-43)">IAA 500 mg L<tspan class="sup" dy="-2.6">-1</tspan></text>
<text class="xl" transform="translate(79.15 328.19) rotate(-43)"><tspan class="ga">GA</tspan><tspan class="sub" dy="1.2">3</tspan><tspan dy="-1.2"> 100 mg L</tspan><tspan class="sup" dy="-2.6">-1</tspan></text>
<text class="xl" transform="translate(90.25 329.09) rotate(-43)"><tspan class="ga">GA</tspan><tspan class="sub" dy="1.2">3</tspan><tspan dy="-1.2"> 300 mg L</tspan><tspan class="sup" dy="-2.6">-1</tspan></text>
<text class="xl" transform="translate(101.35 330.09) rotate(-43)"><tspan class="ga">GA</tspan><tspan class="sub" dy="1.2">3</tspan><tspan dy="-1.2"> 500 mg L</tspan><tspan class="sup" dy="-2.6">-1</tspan></text>
<text class="xl" transform="translate(114.05 328.59) rotate(-43)"><tspan class="sm">IAA+</tspan><tspan class="ga2">GA</tspan><tspan class="sub" dy="1.2">3</tspan><tspan dy="-1.2" dx="1.2"> 100+100 mg L</tspan><tspan class="sup" dy="-2.6">-1</tspan></text>
<text class="xl" transform="translate(125.65 328.19) rotate(-43)"><tspan class="sm">IAA+</tspan><tspan class="ga2">GA</tspan><tspan class="sub" dy="1.2">3</tspan><tspan dy="-1.2" dx="1.2"> 300+100 mg L</tspan><tspan class="sup" dy="-2.6">-1</tspan></text>
<text class="xl" transform="translate(137.55 328.69) rotate(-43)"><tspan class="sm">IAA+</tspan><tspan class="ga2">GA</tspan><tspan class="sub" dy="1.2">3</tspan><tspan dy="-1.2" dx="1.2"> 500+100 mg L</tspan><tspan class="sup" dy="-2.6">-1</tspan></text>
</g>
<g id="p42">
<rect x="162.6" y="289" width="7.4" height="33.2" fill="#000000"/>
<path d="M166.3 289.3V285.6M164.3 285.6H168.3" stroke="#222" stroke-width="0.8" fill="none"/>
<rect x="173.95" y="297" width="7.4" height="25.2" fill="#b2fac6"/>
<path d="M177.65 297.3V296.2M175.65 296.2H179.65" stroke="#222" stroke-width="0.8" fill="none"/>
<text class="st" x="177.65" y="294">★</text>
<rect x="185.3" y="295.4" width="7.4" height="26.8" fill="#5af094"/>
<path d="M189 295.7V291.4M187 291.4H191" stroke="#222" stroke-width="0.8" fill="none"/>
<rect x="196.65" y="286" width="7.4" height="36.2" fill="#00f800"/>
<path d="M200.35 286.3V283M198.35 283H202.35" stroke="#222" stroke-width="0.8" fill="none"/>
<rect x="208" y="300.4" width="7.4" height="21.8" fill="#bedcf9"/>
<path d="M211.7 300.7V298.6M209.7 298.6H213.7" stroke="#222" stroke-width="0.8" fill="none"/>
<text class="st" x="211.7" y="296">★</text>
<rect x="219.35" y="301" width="7.4" height="21.2" fill="#72b9f9"/>
<path d="M223.05 301.3V300.2M221.05 300.2H225.05" stroke="#222" stroke-width="0.8" fill="none"/>
<text class="st" x="223.05" y="296">★</text>
<rect x="242.05" y="290" width="7.4" height="32.2" fill="#fcc7f8"/>
<path d="M245.75 290.3V287.2M243.75 287.2H247.75" stroke="#222" stroke-width="0.8" fill="none"/>
<path d="M159.4 247V258.8M159.4 263.2V322.2" class="ax"/>
<path d="M158 258.1L160.6 260.7M158 261.3L160.6 263.9" class="ax"/>
<path d="M157.5 322.2H275" class="ax"/>
<text class="yl yb" x="156.9" y="323.5">0</text>
<path d="M157.5 298.4H159.4" class="ax"/>
<text class="yl yb" x="156.9" y="299.7">5</text>
<path d="M157.5 274.4H159.4" class="ax"/>
<text class="yl yb" x="156.9" y="275.7">10</text>
<path d="M157.5 256H159.4" class="ax"/>
<text class="yl yb" x="156.9" y="257.3">15</text>
<path d="M157.5 251.6H159.4" class="ax"/>
<text class="yl yb" x="156.9" y="252.9">20</text>
<path d="M157.5 247.4H159.4" class="ax"/>
<text class="yl yb" x="156.9" y="248.7">25</text>
<path d="M166.3 322.2V324.9" class="ax"/>
<path d="M177.65 322.2V324.9" class="ax"/>
<path d="M189 322.2V324.9" class="ax"/>
<path d="M200.35 322.2V324.9" class="ax"/>
<path d="M211.7 322.2V324.9" class="ax"/>
<path d="M223.05 322.2V324.9" class="ax"/>
<path d="M234.4 322.2V324.9" class="ax"/>
<path d="M245.75 322.2V324.9" class="ax"/>
<path d="M257.1 322.2V324.9" class="ax"/>
<path d="M268.45 322.2V324.9" class="ax"/>
<text class="xl" transform="translate(170.86 329.37) rotate(-43)">CK</text>
<text class="xl" transform="translate(180.55 329.19) rotate(-43)">IAA 100 mg L<tspan class="sup" dy="-2.6">-1</tspan></text>
<text class="xl" transform="translate(192.05 329.89) rotate(-43)">IAA 300 mg L<tspan class="sup" dy="-2.6">-1</tspan></text>
<text class="xl" transform="translate(203.55 329.39) rotate(-43)">IAA 500 mg L<tspan class="sup" dy="-2.6">-1</tspan></text>
<text class="xl" transform="translate(213.55 329.59) rotate(-43)"><tspan class="ga">GA</tspan><tspan class="sub" dy="1.2">3</tspan><tspan dy="-1.2"> 100 mg L</tspan><tspan class="sup" dy="-2.6">-1</tspan></text>
<text class="xl" transform="translate(224.65 330.49) rotate(-43)"><tspan class="ga">GA</tspan><tspan class="sub" dy="1.2">3</tspan><tspan dy="-1.2"> 300 mg L</tspan><tspan class="sup" dy="-2.6">-1</tspan></text>
<text class="xl" transform="translate(235.75 331.49) rotate(-43)"><tspan class="ga">GA</tspan><tspan class="sub" dy="1.2">3</tspan><tspan dy="-1.2"> 500 mg L</tspan><tspan class="sup" dy="-2.6">-1</tspan></text>
<text class="xl" transform="translate(248.45 329.99) rotate(-43)"><tspan class="sm">IAA+</tspan><tspan class="ga2">GA</tspan><tspan class="sub" dy="1.2">3</tspan><tspan dy="-1.2" dx="1.2"> 100+100 mg L</tspan><tspan class="sup" dy="-2.6">-1</tspan></text>
<text class="xl" transform="translate(260.05 329.59) rotate(-43)"><tspan class="sm">IAA+</tspan><tspan class="ga2">GA</tspan><tspan class="sub" dy="1.2">3</tspan><tspan dy="-1.2" dx="1.2"> 300+100 mg L</tspan><tspan class="sup" dy="-2.6">-1</tspan></text>
<text class="xl" transform="translate(271.95 330.09) rotate(-43)"><tspan class="sm">IAA+</tspan><tspan class="ga2">GA</tspan><tspan class="sub" dy="1.2">3</tspan><tspan dy="-1.2" dx="1.2"> 500+100 mg L</tspan><tspan class="sup" dy="-2.6">-1</tspan></text>
</g>
<g id="p43">
<rect x="295.2" y="293.6" width="7.3" height="28.9" fill="#000000"/>
<path d="M298.85 293.9V292.4M296.85 292.4H300.85" stroke="#222" stroke-width="0.8" fill="none"/>
<rect x="306.53" y="286.2" width="7.3" height="36.3" fill="#b2fac6"/>
<path d="M310.18 286.5V284.6M308.18 284.6H312.18" stroke="#222" stroke-width="0.8" fill="none"/>
<text class="st" x="310.18" y="282.5">★</text>
<rect x="317.86" y="293" width="7.3" height="29.5" fill="#5af094"/>
<path d="M321.51 293.3V291M319.51 291H323.51" stroke="#222" stroke-width="0.8" fill="none"/>
<rect x="329.19" y="289" width="7.3" height="33.5" fill="#00f800"/>
<path d="M332.84 289.3V286M330.84 286H334.84" stroke="#222" stroke-width="0.8" fill="none"/>
<rect x="340.52" y="305" width="7.3" height="17.5" fill="#bedcf9"/>
<path d="M344.17 305.3V303.4M342.17 303.4H346.17" stroke="#222" stroke-width="0.8" fill="none"/>
<text class="st" x="344.17" y="300">★</text>
<rect x="351.85" y="295.4" width="7.3" height="27.1" fill="#72b9f9"/>
<path d="M355.5 295.7V294M353.5 294H357.5" stroke="#222" stroke-width="0.8" fill="none"/>
<rect x="374.51" y="277" width="7.3" height="45.5" fill="#fcc7f8"/>
<path d="M378.16 277.3V272M376.16 272H380.16" stroke="#222" stroke-width="0.8" fill="none"/>
<text class="st" x="378.16" y="268.7">★</text>
<path d="M291.4 248.2V322.5" class="ax"/>
<path d="M289.5 322.5H407.4" class="ax"/>
<text class="yl yb" x="288.9" y="323.8">0</text>
<path d="M289.5 308H291.4" class="ax"/>
<text class="yl yb" x="288.9" y="309.3">5</text>
<path d="M289.5 293.4H291.4" class="ax"/>
<text class="yl yb" x="288.9" y="294.7">10</text>
<path d="M289.5 278.4H291.4" class="ax"/>
<text class="yl yb" x="288.9" y="279.7">15</text>
<path d="M289.5 263.5H291.4" class="ax"/>
<text class="yl yb" x="288.9" y="264.8">20</text>
<path d="M289.5 248.6H291.4" class="ax"/>
<text class="yl yb" x="288.9" y="249.9">25</text>
<path d="M298.85 322.5V325.2" class="ax"/>
<path d="M310.18 322.5V325.2" class="ax"/>
<path d="M321.51 322.5V325.2" class="ax"/>
<path d="M332.84 322.5V325.2" class="ax"/>
<path d="M344.17 322.5V325.2" class="ax"/>
<path d="M355.5 322.5V325.2" class="ax"/>
<path d="M366.83 322.5V325.2" class="ax"/>
<path d="M378.16 322.5V325.2" class="ax"/>
<path d="M389.49 322.5V325.2" class="ax"/>
<path d="M400.82 322.5V325.2" class="ax"/>
<text class="xl" transform="translate(302.86 329.37) rotate(-43)">CK</text>
<text class="xl" transform="translate(312.55 329.19) rotate(-43)">IAA 100 mg L<tspan class="sup" dy="-2.6">-1</tspan></text>
<text class="xl" transform="translate(324.05 329.89) rotate(-43)">IAA 300 mg L<tspan class="sup" dy="-2.6">-1</tspan></text>
<text class="xl" transform="translate(335.55 329.39) rotate(-43)">IAA 500 mg L<tspan class="sup" dy="-2.6">-1</tspan></text>
<text class="xl" transform="translate(345.55 329.59) rotate(-43)"><tspan class="ga">GA</tspan><tspan class="sub" dy="1.2">3</tspan><tspan dy="-1.2"> 100 mg L</tspan><tspan class="sup" dy="-2.6">-1</tspan></text>
<text class="xl" transform="translate(356.65 330.49) rotate(-43)"><tspan class="ga">GA</tspan><tspan class="sub" dy="1.2">3</tspan><tspan dy="-1.2"> 300 mg L</tspan><tspan class="sup" dy="-2.6">-1</tspan></text>
<text class="xl" transform="translate(367.75 331.49) rotate(-43)"><tspan class="ga">GA</tspan><tspan class="sub" dy="1.2">3</tspan><tspan dy="-1.2"> 500 mg L</tspan><tspan class="sup" dy="-2.6">-1</tspan></text>
<text class="xl" transform="translate(380.45 329.99) rotate(-43)"><tspan class="sm">IAA+</tspan><tspan class="ga2">GA</tspan><tspan class="sub" dy="1.2">3</tspan><tspan dy="-1.2" dx="1.2"> 100+100 mg L</tspan><tspan class="sup" dy="-2.6">-1</tspan></text>
<text class="xl" transform="translate(392.05 329.59) rotate(-43)"><tspan class="sm">IAA+</tspan><tspan class="ga2">GA</tspan><tspan class="sub" dy="1.2">3</tspan><tspan dy="-1.2" dx="1.2"> 300+100 mg L</tspan><tspan class="sup" dy="-2.6">-1</tspan></text>
<text class="xl" transform="translate(403.95 330.09) rotate(-43)"><tspan class="sm">IAA+</tspan><tspan class="ga2">GA</tspan><tspan class="sub" dy="1.2">3</tspan><tspan dy="-1.2" dx="1.2"> 500+100 mg L</tspan><tspan class="sup" dy="-2.6">-1</tspan></text>
</g>
<g id="p44">
<rect x="430" y="312" width="7.3" height="10.8" fill="#000000"/>
<path d="M433.65 312.3V311M431.65 311H435.65" stroke="#222" stroke-width="0.8" fill="none"/>
<rect x="441.33" y="310.6" width="7.3" height="12.2" fill="#b2fac6"/>
<path d="M444.98 310.9V309.6M442.98 309.6H446.98" stroke="#222" stroke-width="0.8" fill="none"/>
<rect x="452.66" y="309.4" width="7.3" height="13.4" fill="#5af094"/>
<path d="M456.31 309.7V308.4M454.31 308.4H458.31" stroke="#222" stroke-width="0.8" fill="none"/>
<rect x="463.99" y="309" width="7.3" height="13.8" fill="#00f800"/>
<path d="M467.64 309.3V307.6M465.64 307.6H469.64" stroke="#222" stroke-width="0.8" fill="none"/>
<rect x="475.32" y="311" width="7.3" height="11.8" fill="#bedcf9"/>
<path d="M478.97 311.3V310M476.97 310H480.97" stroke="#222" stroke-width="0.8" fill="none"/>
<rect x="486.65" y="309" width="7.3" height="13.8" fill="#72b9f9"/>
<path d="M490.3 309.3V308M488.3 308H492.3" stroke="#222" stroke-width="0.8" fill="none"/>
<text class="st" x="490.3" y="306">★</text>
<rect x="509.31" y="310" width="7.3" height="12.8" fill="#fcc7f8"/>
<path d="M512.96 310.3V309M510.96 309H514.96" stroke="#222" stroke-width="0.8" fill="none"/>
<path d="M426.2 247.9V256.6M426.2 261V322.8" class="ax"/>
<path d="M424.8 255.9L427.4 258.5M424.8 259.1L427.4 261.7" class="ax"/>
<path d="M423.7 322.8H543.6" class="ax"/>
<text class="yl" x="422.8" y="323.95">0</text>
<path d="M423.7 298.4H426.2" class="ax"/>
<text class="yl" x="422.8" y="299.55">5</text>
<path d="M423.7 273.3H426.2" class="ax"/>
<text class="yl" x="422.8" y="274.45">10</text>
<path d="M423.7 255.5H426.2" class="ax"/>
<text class="yl" x="422.8" y="256.65">15</text>
<path d="M423.7 252H426.2" class="ax"/>
<text class="yl" x="422.8" y="253.15">20</text>
<path d="M423.7 248.3H426.2" class="ax"/>
<text class="yl" x="422.8" y="249.45">25</text>
<path d="M433.65 322.8V325.5" class="ax"/>
<path d="M444.98 322.8V325.5" class="ax"/>
<path d="M456.31 322.8V325.5" class="ax"/>
<path d="M467.64 322.8V325.5" class="ax"/>
<path d="M478.97 322.8V325.5" class="ax"/>
<path d="M490.3 322.8V325.5" class="ax"/>
<path d="M501.63 322.8V325.5" class="ax"/>
<path d="M512.96 322.8V325.5" class="ax"/>
<path d="M524.29 322.8V325.5" class="ax"/>
<path d="M535.62 322.8V325.5" class="ax"/>
<text class="xl" transform="translate(440.96 329.57) rotate(-43)">CK</text>
<text class="xl" transform="translate(450.65 329.39) rotate(-43)">IAA 100 mg L<tspan class="sup" dy="-2.6">-1</tspan></text>
<text class="xl" transform="translate(462.15 330.09) rotate(-43)">IAA 300 mg L<tspan class="sup" dy="-2.6">-1</tspan></text>
<text class="xl" transform="translate(473.65 329.59) rotate(-43)">IAA 500 mg L<tspan class="sup" dy="-2.6">-1</tspan></text>
<text class="xl" transform="translate(483.65 329.79) rotate(-43)"><tspan class="ga">GA</tspan><tspan class="sub" dy="1.2">3</tspan><tspan dy="-1.2"> 100 mg L</tspan><tspan class="sup" dy="-2.6">-1</tspan></text>
<text class="xl" transform="translate(494.75 330.69) rotate(-43)"><tspan class="ga">GA</tspan><tspan class="sub" dy="1.2">3</tspan><tspan dy="-1.2"> 300 mg L</tspan><tspan class="sup" dy="-2.6">-1</tspan></text>
<text class="xl" transform="translate(505.85 331.69) rotate(-43)"><tspan class="ga">GA</tspan><tspan class="sub" dy="1.2">3</tspan><tspan dy="-1.2"> 500 mg L</tspan><tspan class="sup" dy="-2.6">-1</tspan></text>
<text class="xl" transform="translate(518.55 330.19) rotate(-43)"><tspan class="sm">IAA+</tspan><tspan class="ga2">GA</tspan><tspan class="sub" dy="1.2">3</tspan><tspan dy="-1.2" dx="1.2"> 100+100 mg L</tspan><tspan class="sup" dy="-2.6">-1</tspan></text>
<text class="xl" transform="translate(530.15 329.79) rotate(-43)"><tspan class="sm">IAA+</tspan><tspan class="ga2">GA</tspan><tspan class="sub" dy="1.2">3</tspan><tspan dy="-1.2" dx="1.2"> 300+100 mg L</tspan><tspan class="sup" dy="-2.6">-1</tspan></text>
<text class="xl" transform="translate(542.05 330.29) rotate(-43)"><tspan class="sm">IAA+</tspan><tspan class="ga2">GA</tspan><tspan class="sub" dy="1.2">3</tspan><tspan dy="-1.2" dx="1.2"> 500+100 mg L</tspan><tspan class="sup" dy="-2.6">-1</tspan></text>
</g>
<text class="ti" x="81.2" y="16.4">TW</text>
<text class="ti" x="207" y="16.0">EW</text>
<text class="ti" x="353.8" y="15.0">LW</text>
<text class="ti" x="482.3" y="14.4">Cambium</text>
<text class="ro" transform="translate(13.2 28.0) rotate(-90)">30 DAT</text>
<text class="ro" transform="translate(13.2 110.3) rotate(-90)">60 DAT</text>
<text class="ro" transform="translate(13.2 193.0) rotate(-90)">90 DAT</text>
<text class="ro" transform="translate(13.2 277.8) rotate(-90)">120 DAT</text>
</svg>
</body></html>
